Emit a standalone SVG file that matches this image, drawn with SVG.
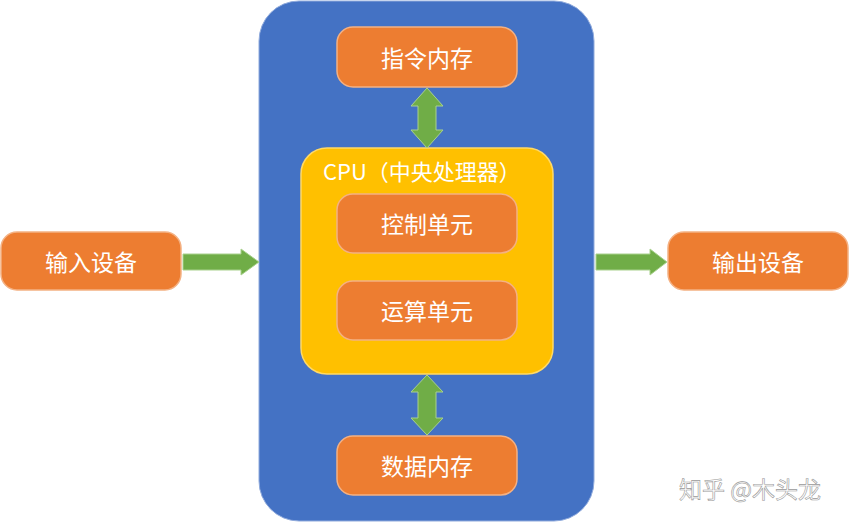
<svg xmlns="http://www.w3.org/2000/svg" width="850" height="523" viewBox="0 0 850 523">
<style>
.o{fill:#ED7D31;stroke:#F4B183;stroke-width:1.5}
.t{font-family:"Noto Sans CJK SC","Liberation Sans",sans-serif;font-size:23px;fill:#fff;text-anchor:middle;dominant-baseline:central}
.a{fill:#70AD47;stroke:#A9D18E;stroke-width:1}
</style>
<rect width="850" height="523" fill="#fff"/>
<g id="main"><rect x="259" y="1" width="335" height="520" rx="40" fill="#4472C4" stroke="#8FAADC" stroke-width="1"/></g>
<g id="cpu"><rect x="301" y="148" width="252" height="226" rx="26" fill="#FFC000" stroke="#FFD966" stroke-width="1.5"/>
<text x="323" y="170" style="font-family:'Noto Sans CJK SC','Liberation Sans',sans-serif;font-size:22px;fill:#fff;dominant-baseline:central">CPU（中央处理器）</text></g>
<g id="imem"><rect class="o" x="337" y="27" width="180" height="60" rx="16"/><text class="t" x="427" y="57">指令内存</text></g>
<g id="ctrl"><rect class="o" x="337" y="194" width="180" height="59" rx="16"/><text class="t" x="427" y="223">控制单元</text></g>
<g id="alu"><rect class="o" x="337" y="281" width="180" height="59" rx="16"/><text class="t" x="427" y="310">运算单元</text></g>
<g id="dmem"><rect class="o" x="337" y="436" width="180" height="59" rx="16"/><text class="t" x="427" y="465">数据内存</text></g>
<g id="in"><rect class="o" x="1" y="232" width="180" height="58" rx="16"/><text class="t" x="91" y="261">输入设备</text></g>
<g id="out"><rect class="o" x="668" y="232" width="180" height="58" rx="16"/><text class="t" x="758" y="261">输出设备</text></g>
<g id="connectors">
<polygon class="a" points="427,88 443,106 436,106 436,130 443,130 427,148 411,130 418,130 418,106 411,106"/>
<polygon class="a" points="427,375 443,392 436,392 436,418 443,418 427,435 411,418 418,418 418,392 411,392"/>
<polygon class="a" points="183,254 241,254 241,249 259,262 241,275 241,270 183,270"/>
<polygon class="a" points="596,254 650,254 650,249 667,262 650,275 650,270 596,270"/>
</g>
<text x="750" y="488" style="font-family:'Noto Sans CJK SC',sans-serif;font-size:23px;fill:#fff;text-anchor:middle;dominant-baseline:central;stroke:#999;stroke-width:0.6">知乎 @木头龙</text>
</svg>
